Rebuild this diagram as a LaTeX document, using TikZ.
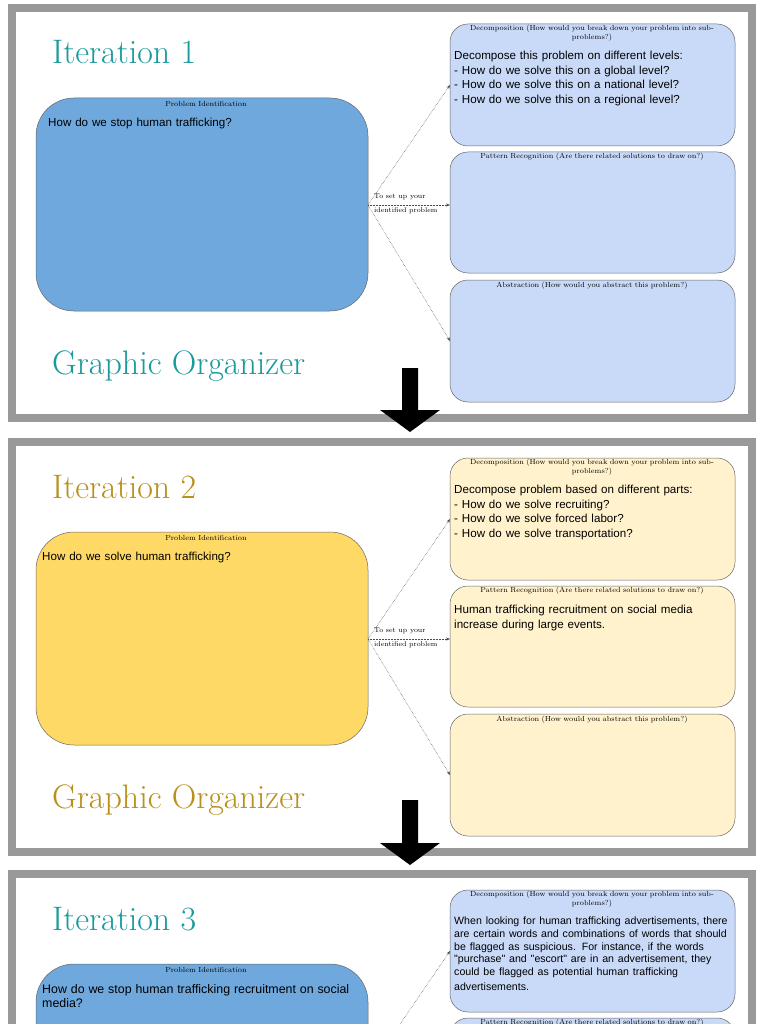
\documentclass[tikz,border=0pt]{standalone}
\usepackage{fontspec}
\newfontfamily\sans{Liberation Sans}
\usetikzlibrary{arrows.meta}
\definecolor{teal1}{HTML}{1A9A9E}
\definecolor{gold1}{HTML}{B8901A}
\definecolor{blueA}{HTML}{6FA8DC}
\definecolor{blueB}{HTML}{C9DAF8}
\definecolor{yelA}{HTML}{FFD966}
\definecolor{yelB}{HTML}{FFF2CC}
\definecolor{frame}{HTML}{999999}
\tikzset{
  frm/.style={draw=frame,line width=8pt,fill=white},
  big/.style={draw=black!60,line width=0.5pt,rounded corners=38pt},
  small/.style={draw=black!60,line width=0.5pt,rounded corners=18pt},
  ttl/.style={font=\fontsize{7.3}{9}\selectfont,text width=275pt,align=center,anchor=north,inner sep=0pt},
  body/.style={font=\sans\fontsize{11.6}{14.6}\selectfont,text width=280pt,align=left,anchor=north west,inner sep=0pt},
  head/.style={font=\fontsize{34}{36}\selectfont,anchor=base west,inner sep=0pt},
  conn/.style={densely dotted,black!70,line width=0.5pt,-{Stealth[length=4pt]}},
  lbl/.style={font=\fontsize{7}{14}\selectfont,align=left,anchor=west,inner sep=0pt},
  down/.style={fill=black}
}
% #1 suffix #2 yoffset #3 title color #4 big fill #5 small fill #6 problem #7 decomp #8 pattern #9 number
\newcommand\Panel[9]{%
\begin{scope}[yshift=-#2pt]
 \draw[frm] (12,8) rectangle (752,418);
 \node[head,text=#3] (it#1) at (52,64) {Iteration #9};
 \path[big,fill=#4] (36,98) rectangle (368,311);
 \coordinate (pe#1) at (368,205);
 \node[ttl] (pt#1) at (206,101) {Problem Identification};
 \node[body,text width=322pt] (pb#1) at (42,118) {#6};
 \path[small,fill=#5] (450,24) rectangle (735,146);
 \coordinate (dw#1) at (450,85);
 \node[ttl] (dt#1) at (592,25) {Decomposition (How would you break down your problem into sub-\\problems?)};
 \node[body] (db#1) at (454,51) {#7};
 \path[small,fill=#5] (450,152) rectangle (735,273);
 \coordinate (rw#1) at (450,205);
 \node[ttl] (rt#1) at (592,153) {Pattern Recognition (Are there related solutions to draw on?)};
 \node[body] (rb#1) at (454,171) {#8};
 \path[small,fill=#5] (450,280) rectangle (735,402);
 \coordinate (aw#1) at (450,341);
 \node[ttl] (at#1) at (592,282) {Abstraction (How would you abstract this problem?)};
 \draw[conn] (pe#1) -- (dw#1);
 \draw[conn] (pe#1) -- (rw#1);
 \draw[conn] (pe#1) -- (aw#1);
 \node[lbl] (lb#1) at (374,204) {To set up your\\identified problem};
\end{scope}}
\begin{document}
\begin{tikzpicture}[x=1pt,y=-1pt]
\useasboundingbox (0,0) rectangle (768,1024);
\clip (0,0) rectangle (768,1024);
\fill[white] (0,0) rectangle (768,1024);
\Panel{a}{0}{teal1}{blueA}{blueB}{\hspace*{6pt}How do we stop human trafficking?}{Decompose this problem on different levels:\\- How do we solve this on a global level?\\- How do we solve this on a national level?\\- How do we solve this on a regional level?}{}{1}
\node[head,text=teal1] (goa) at (52,374) {Graphic Organizer};
\Panel{b}{434}{gold1}{yelA}{yelB}{How do we solve human trafficking?}{Decompose problem based on different parts:\\- How do we solve recruiting?\\- How do we solve forced labor?\\- How do we solve transportation?}{Human trafficking recruitment on social media\\increase during large events.}{2}
\node[head,text=gold1] (gob) at (52,808) {Graphic Organizer};
\Panel{c}{866}{teal1}{blueA}{blueB}{\fontsize{12.4}{17}\selectfont How do we stop human trafficking recruitment on social\\media?}{\fontsize{10.6}{12.7}\selectfont When looking for human trafficking advertisements, there\\are certain words and combinations of words that should\\be flagged as suspicious. For instance, if the words\\"purchase" and "escort" are in an advertisement, they\\could be flagged as potential human trafficking\\advertisements.}{}{3}
\fill[down] (402,368) -- (418,368) -- (418,410) -- (440,410) -- (410,432) -- (380,410) -- (402,410) -- cycle;
\fill[down] (402,800) -- (418,800) -- (418,843) -- (440,843) -- (410,865) -- (380,843) -- (402,843) -- cycle;
\end{tikzpicture}
\end{document}
